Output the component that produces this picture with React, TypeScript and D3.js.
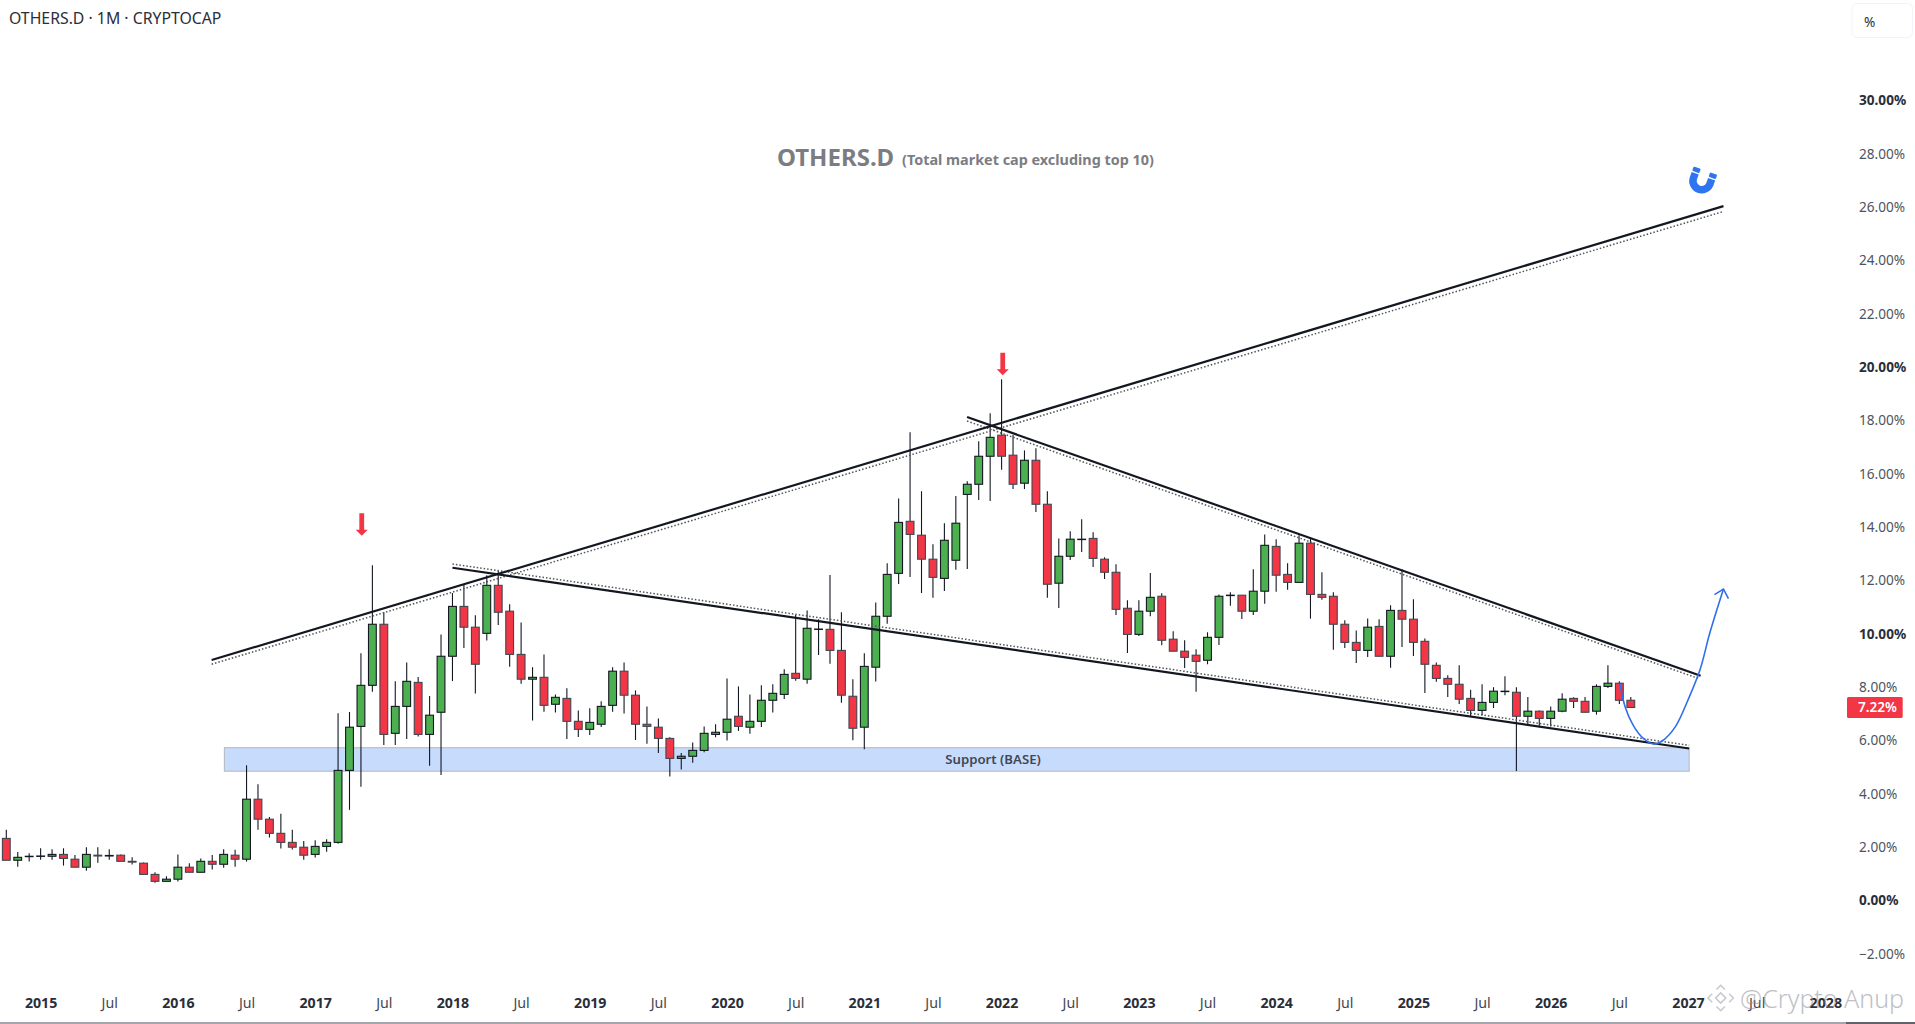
import { useEffect, useRef } from 'react';
import { arc, axisBottom, axisRight, curveCatmullRom, line, scaleLinear, select } from 'd3';

const FONT = '"Noto Sans", sans-serif';

// monthly candles, first one is Oct 2014
const opens = [
  2.31, 1.49, 1.64, 1.64, 1.64, 1.71, 1.53, 1.23, 1.68, 1.65,
  1.68, 1.45, 1.38, 0.96, 0.7, 0.78, 1.23, 1.04, 1.45, 1.34,
  1.68, 1.53, 3.78, 3.03, 2.5, 2.16, 1.98, 1.71, 2.01, 2.16,
  4.86, 6.51, 8.05, 10.34, 6.25, 7.26, 8.16, 6.21, 7.04, 9.14,
  11.01, 10.23, 10.0, 11.8, 10.83, 9.21, 8.28, 8.35, 7.34, 7.56,
  6.7, 6.4, 6.59, 7.3, 8.58, 7.68, 6.59, 6.48, 6.06, 5.31,
  5.39, 5.61, 6.21, 6.29, 6.89, 6.48, 6.7, 7.49, 7.71, 8.5,
  8.28, 10.16, 10.15, 9.36, 7.64, 6.48, 8.73, 10.64, 12.25, 14.2,
  13.68, 12.78, 12.06, 12.74, 15.21, 15.59, 16.64, 17.43, 16.68, 15.63,
  16.49, 14.84, 11.88, 12.89, 13.53, 13.56, 12.78, 12.29, 10.94, 9.96,
  10.83, 11.39, 9.78, 9.33, 9.18, 8.99, 9.85, 11.43, 11.43, 10.83,
  11.58, 13.26, 12.21, 11.91, 13.38, 11.46, 11.39, 10.34, 9.66, 9.36,
  10.26, 9.14, 10.86, 10.53, 9.7, 8.8, 8.31, 8.09, 7.56, 7.11,
  7.41, 7.83, 7.79, 6.89, 7.08, 6.81, 7.08, 7.56, 7.45, 7.08,
  8.01, 8.13, 7.49,
];
const closes = [
  1.49, 1.6, 1.64, 1.65, 1.71, 1.56, 1.23, 1.71, 1.65, 1.67,
  1.45, 1.42, 0.96, 0.7, 0.78, 1.23, 1.04, 1.45, 1.34, 1.71,
  1.53, 3.78, 3.03, 2.5, 2.16, 1.98, 1.68, 2.01, 2.16, 4.86,
  6.48, 8.05, 10.34, 6.21, 7.26, 8.2, 6.21, 6.93, 9.14, 11.01,
  10.23, 8.84, 11.8, 10.79, 9.21, 8.28, 8.35, 7.3, 7.6, 6.7,
  6.4, 6.66, 7.26, 8.58, 7.68, 6.59, 6.51, 6.06, 5.31, 5.39,
  5.61, 6.25, 6.29, 6.78, 6.51, 6.7, 7.49, 7.75, 8.46, 8.31,
  10.19, 10.16, 9.36, 7.68, 6.44, 8.76, 10.64, 12.21, 14.16, 13.71,
  12.78, 12.1, 13.49, 14.13, 15.59, 16.64, 17.35, 16.64, 15.59, 16.49,
  14.84, 11.84, 12.89, 13.53, 13.53, 12.81, 12.29, 10.9, 9.96, 10.83,
  11.35, 9.74, 9.33, 9.1, 8.95, 9.85, 11.39, 11.43, 10.83, 11.58,
  13.3, 12.18, 11.91, 13.38, 11.46, 11.35, 10.34, 9.66, 9.36, 10.23,
  9.14, 10.86, 10.53, 9.66, 8.84, 8.31, 8.09, 7.53, 7.11, 7.41,
  7.83, 7.83, 6.89, 7.08, 6.81, 7.08, 7.53, 7.45, 7.04, 8.01,
  8.13, 7.49, 7.22,
];
const highs = [
  2.63, 1.8, 1.75, 1.94, 1.9, 1.94, 1.69, 1.98, 1.98, 1.9,
  1.71, 1.6, 1.41, 1.04, 0.89, 1.71, 1.38, 1.56, 1.69, 1.9,
  1.88, 5.05, 4.34, 3.11, 3.23, 2.63, 2.21, 2.24, 2.28, 7.0,
  7.05, 9.25, 12.55, 10.79, 8.2, 8.91, 8.36, 7.65, 9.96, 11.51,
  11.85, 10.68, 12.18, 12.34, 11.09, 10.41, 8.73, 9.21, 7.71, 7.94,
  7.11, 7.19, 7.45, 8.73, 8.91, 7.86, 7.26, 6.81, 6.1, 5.51,
  5.91, 6.51, 6.59, 8.31, 8.01, 7.71, 8.05, 8.09, 8.65, 10.69,
  10.86, 10.53, 12.19, 10.79, 8.28, 9.25, 11.16, 12.63, 15.06, 17.54,
  15.33, 13.34, 14.13, 15.15, 15.7, 17.2, 18.25, 19.53, 17.44, 16.86,
  16.94, 15.33, 13.56, 13.83, 14.28, 13.79, 12.85, 12.59, 11.24, 11.24,
  12.26, 11.5, 10.08, 9.74, 9.4, 10.04, 11.46, 11.54, 11.43, 12.4,
  13.71, 13.53, 12.63, 13.68, 13.6, 12.29, 11.54, 10.49, 10.11, 10.56,
  10.53, 11.05, 12.4, 11.28, 9.81, 8.91, 8.43, 8.8, 7.88, 8.09,
  7.98, 8.39, 7.98, 7.61, 7.11, 7.26, 7.75, 7.6, 7.61, 8.09,
  8.8, 8.2, 7.61,
];
const lows = [
  1.49, 1.25, 1.44, 1.51, 1.51, 1.29, 1.23, 1.1, 1.4, 1.51,
  1.45, 1.33, 0.96, 0.65, 0.7, 0.69, 1.04, 1.04, 1.14, 1.21,
  1.25, 1.44, 2.63, 2.34, 1.93, 1.89, 1.51, 1.59, 1.81, 2.11,
  3.38, 4.25, 7.81, 5.81, 5.81, 6.04, 6.13, 5.03, 4.69, 8.21,
  9.45, 7.74, 9.73, 10.31, 8.75, 8.11, 6.73, 7.06, 7.03, 6.04,
  6.11, 6.19, 6.49, 7.06, 6.99, 6.0, 5.86, 5.51, 4.63, 4.89,
  5.15, 5.54, 6.1, 5.98, 6.34, 6.23, 6.49, 7.03, 7.54, 8.22,
  8.11, 9.19, 8.86, 7.4, 5.99, 5.65, 8.19, 10.36, 11.85, 12.11,
  11.51, 11.33, 11.59, 12.38, 12.41, 15.0, 14.96, 16.13, 15.41, 15.41,
  14.55, 11.33, 10.95, 12.75, 13.05, 12.49, 12.04, 10.69, 9.26, 9.9,
  10.64, 9.55, 9.33, 8.7, 7.81, 8.84, 9.56, 11.03, 10.54, 10.69,
  11.11, 11.56, 11.63, 11.91, 10.55, 11.26, 9.38, 9.45, 8.89, 9.11,
  9.14, 8.71, 9.49, 9.15, 7.76, 8.18, 7.61, 7.35, 6.88, 6.93,
  7.2, 7.68, 4.84, 6.55, 6.48, 6.51, 7.04, 7.2, 7.04, 6.95,
  7.95, 7.35, 7.22,
];

const timeLabels = [
  '2015', 'Jul', '2016', 'Jul', '2017', 'Jul', '2018', 'Jul', '2019', 'Jul',
  '2020', 'Jul', '2021', 'Jul', '2022', 'Jul', '2023', 'Jul', '2024', 'Jul',
  '2025', 'Jul', '2026', 'Jul', '2027', 'Jul', '2028',
];
const priceTicks = [-2, 0, 2, 4, 6, 8, 10, 12, 14, 16, 18, 20, 22, 24, 26, 28, 30];
const lastPrice = 7.22;

// trend lines as [candle index, value]
const trendLines = [
  [[17.95, 9.0], [150.1, 26.02]],
  [[39.0, 12.46], [147.1, 5.68]],
  [[83.98, 18.11], [148.1, 8.41]],
];
const dottedLines = [
  [[17.95, 8.84], [150.1, 25.82]],
  [[39.0, 12.6], [147.1, 5.8]],
  [[83.98, 17.96], [147.9, 8.31]],
];
const supportIndex = [19.06, 147.1];
const supportValue = [4.83, 5.71];
const projection = [
  [141.06, 8.1], [141.5, 7.25], [142.2, 6.56], [143.1, 6.06], [144.0, 5.85], [144.8, 5.98],
  [145.9, 6.5], [147.0, 7.5], [148.05, 8.63], [148.9, 10.0], [150.1, 11.66],
];
const arrowMarks = [
  [31.07, 13.66],
  [87.1, 19.68],
];

const WIDTH = 1915;
const HEIGHT = 1024;
const RED = '#f23645';
const GREEN = '#4caf50';
const TITLE_GREY = '#7c7d83';

const App = () => {
  const svgRef = useRef(null);

  useEffect(() => {
    const svg = select(svgRef.current);
    svg.selectAll('*').remove();
    svg.style('font-family', FONT);

    const x = scaleLinear().domain([0, 142]).range([6.3, 1630.8]);
    const y = scaleLinear().domain([-2, 30]).range([953.33, 100]);
    const toPath = line()
      .x((d) => x(d[0]))
      .y((d) => y(d[1]));

    svg.append('rect').attr('width', WIDTH).attr('height', HEIGHT).attr('fill', '#fff');

    // support zone
    svg
      .append('rect')
      .attr('x', x(supportIndex[0]))
      .attr('y', y(supportValue[1]))
      .attr('width', x(supportIndex[1]) - x(supportIndex[0]))
      .attr('height', y(supportValue[0]) - y(supportValue[1]))
      .attr('fill', '#c7dcfc')
      .attr('stroke', '#b2b5be')
      .attr('stroke-width', 1);

    // candles
    const candles = svg
      .append('g')
      .selectAll('g')
      .data(opens.map((o, i) => ({ i, o, c: closes[i], h: highs[i], l: lows[i] })))
      .enter()
      .append('g');
    candles
      .append('line')
      .attr('x1', (d) => x(d.i))
      .attr('x2', (d) => x(d.i))
      .attr('y1', (d) => y(d.h))
      .attr('y2', (d) => y(d.l))
      .attr('stroke', '#131722')
      .attr('stroke-width', 1.1);
    candles
      .append('rect')
      .attr('x', (d) => x(d.i) - 3.9)
      .attr('width', 7.8)
      .attr('y', (d) => y(Math.max(d.o, d.c)))
      .attr('height', (d) => Math.max(0.4, Math.abs(y(d.o) - y(d.c))))
      .attr('fill', (d) => (d.c >= d.o ? GREEN : RED))
      .attr('stroke', (d) => (d.c >= d.o ? '#131722' : '#434651'))
      .attr('stroke-width', 1.1);

    svg
      .append('text')
      .attr('x', 993)
      .attr('y', 763.5)
      .attr('text-anchor', 'middle')
      .attr('font-size', 13.2)
      .attr('font-weight', 600)
      .attr('fill', '#434651')
      .text('Support (BASE)');

    // drawn lines
    svg
      .append('g')
      .selectAll('path')
      .data(dottedLines)
      .enter()
      .append('path')
      .attr('d', (d) => toPath(d))
      .attr('fill', 'none')
      .attr('stroke', '#555')
      .attr('stroke-width', 1.5)
      .attr('stroke-dasharray', '1.5 2');
    svg
      .append('g')
      .selectAll('path')
      .data(trendLines)
      .enter()
      .append('path')
      .attr('d', (d) => toPath(d))
      .attr('fill', 'none')
      .attr('stroke', '#131722')
      .attr('stroke-width', 2.2);

    // projected path
    const curve = line()
      .x((d) => x(d[0]))
      .y((d) => y(d[1]))
      .curve(curveCatmullRom.alpha(0.5));
    svg
      .append('path')
      .attr('d', curve(projection))
      .attr('fill', 'none')
      .attr('stroke', '#2f6fed')
      .attr('stroke-width', 1.6);
    const tip = projection[projection.length - 1];
    svg
      .append('path')
      .attr('transform', `translate(${x(tip[0])},${y(tip[1])})`)
      .attr('d', 'M-9,5.5 L0,0 L5,9.5')
      .attr('fill', 'none')
      .attr('stroke', '#2f6fed')
      .attr('stroke-width', 1.6);

    // red arrows
    svg
      .append('g')
      .selectAll('path')
      .data(arrowMarks)
      .enter()
      .append('path')
      .attr('transform', (d) => `translate(${x(d[0])},${y(d[1])})`)
      .attr('d', 'M0,0 L-6,-6 L-2.4,-6 L-2.4,-22.5 L2.4,-22.5 L2.4,-6 L6,-6 Z')
      .attr('fill', RED);

    // magnet icon
    const magnet = svg.append('g').attr('transform', 'translate(1701.7,181) rotate(20)');
    magnet
      .append('path')
      .attr(
        'd',
        arc()({ innerRadius: 5, outerRadius: 12.5, startAngle: Math.PI / 2, endAngle: (3 * Math.PI) / 2 }),
      )
      .attr('fill', '#2f74f0');
    magnet.append('rect').attr('x', -12.5).attr('y', -5).attr('width', 7.5).attr('height', 5.5).attr('fill', '#2f74f0');
    magnet.append('rect').attr('x', 5).attr('y', -5).attr('width', 7.5).attr('height', 5.5).attr('fill', '#2f74f0');
    magnet.append('rect').attr('x', -12.5).attr('y', -11).attr('width', 7.5).attr('height', 4.6).attr('rx', 1).attr('fill', '#2f74f0');
    magnet.append('rect').attr('x', 5).attr('y', -11).attr('width', 7.5).attr('height', 4.6).attr('rx', 1).attr('fill', '#2f74f0');

    // titles
    svg
      .append('text')
      .attr('x', 9)
      .attr('y', 24)
      .attr('font-size', 15.8)
      .attr('fill', '#2a2e39')
      .text('OTHERS.D · 1M · CRYPTOCAP');
    svg
      .append('text')
      .attr('x', 777)
      .attr('y', 166)
      .attr('font-size', 24)
      .attr('font-weight', 700)
      .attr('fill', TITLE_GREY)
      .text('OTHERS.D');
    svg
      .append('text')
      .attr('x', 902)
      .attr('y', 164.5)
      .attr('font-size', 14.4)
      .attr('font-weight', 700)
      .attr('fill', TITLE_GREY)
      .text('(Total market cap excluding top 10)');

    // time axis
    const timeAxis = axisBottom(x)
      .tickValues(timeLabels.map((_, i) => 3 + i * 6))
      .tickSize(0)
      .tickFormat((_, i) => timeLabels[i]);
    const timeGroup = svg.append('g').attr('transform', 'translate(0,995)').call(timeAxis);
    timeGroup.select('.domain').remove();
    timeGroup
      .selectAll('text')
      .attr('font-family', FONT)
      .attr('font-size', 14.2)
      .attr('font-weight', (d, i) => (timeLabels[i] === 'Jul' ? 400 : 700))
      .attr('fill', (d, i) => (timeLabels[i] === 'Jul' ? '#434651' : '#2a2e39'));

    // price axis
    const priceAxis = axisRight(y)
      .tickValues(priceTicks)
      .tickSize(0)
      .tickFormat((d) => `${d < 0 ? '−' : ''}${Math.abs(d).toFixed(2)}%`);
    const priceGroup = svg.append('g').attr('transform', 'translate(1856,0.4)').call(priceAxis);
    priceGroup.select('.domain').remove();
    priceGroup
      .selectAll('text')
      .attr('font-family', FONT)
      .attr('font-size', 13.6)
      .attr('font-weight', (d) => (d % 10 === 0 ? 700 : 400))
      .attr('fill', (d) => (d % 10 === 0 ? '#2a2e39' : '#50535e'));

    // last price tag
    svg
      .append('rect')
      .attr('x', 1847)
      .attr('y', y(lastPrice) - 10.5)
      .attr('width', 55.7)
      .attr('height', 21)
      .attr('rx', 1.5)
      .attr('fill', RED);
    svg
      .append('text')
      .attr('x', 1858)
      .attr('y', y(lastPrice) + 5)
      .attr('font-size', 13.6)
      .attr('font-weight', 600)
      .attr('fill', '#fff')
      .text(`${lastPrice.toFixed(2)}%`);

    // percent button
    svg
      .append('rect')
      .attr('x', 1852)
      .attr('y', 3.5)
      .attr('width', 60.5)
      .attr('height', 34)
      .attr('rx', 5)
      .attr('fill', '#fff')
      .attr('stroke', '#f0f3fa');
    svg.append('text').attr('x', 1864).attr('y', 27).attr('font-size', 13.6).attr('fill', '#2a2e39').text('%');

    // bottom edge
    svg.append('line').attr('x1', 0).attr('x2', 1846).attr('y1', 1023).attr('y2', 1023).attr('stroke', '#868993').attr('stroke-width', 1.5);
    svg.append('line').attr('x1', 1846).attr('x2', WIDTH).attr('y1', 1023).attr('y2', 1023).attr('stroke', '#2a2e39').attr('stroke-width', 1.5);

    // watermark
    const mark = svg.append('g').attr('opacity', 0.55).attr('fill', 'none').attr('stroke', '#9a9da6').attr('stroke-width', 1.5);
    const logo = mark.append('g').attr('transform', 'translate(1720.7,998) rotate(45)');
    logo.append('rect').attr('x', -3.6).attr('y', -3.6).attr('width', 7.2).attr('height', 7.2);
    logo.append('path').attr('d', 'M-9,-3 L-9,-9 L-3,-9');
    logo.append('path').attr('d', 'M3,-9 L9,-9 L9,-3');
    logo.append('path').attr('d', 'M9,3 L9,9 L3,9');
    logo.append('path').attr('d', 'M-3,9 L-9,9 L-9,3');
    svg
      .append('text')
      .attr('x', 1740)
      .attr('y', 1008)
      .attr('font-size', 25)
      .attr('font-weight', 300)
      .attr('opacity', 0.55)
      .attr('fill', '#8a8d96')
      .text('@Crypto Anup');
  }, []);

  return (
    <svg
      ref={svgRef}
      width={WIDTH}
      height={HEIGHT}
      style={{ position: 'fixed', left: 0, top: 0, display: 'block' }}
    />
  );
};

export default App;
